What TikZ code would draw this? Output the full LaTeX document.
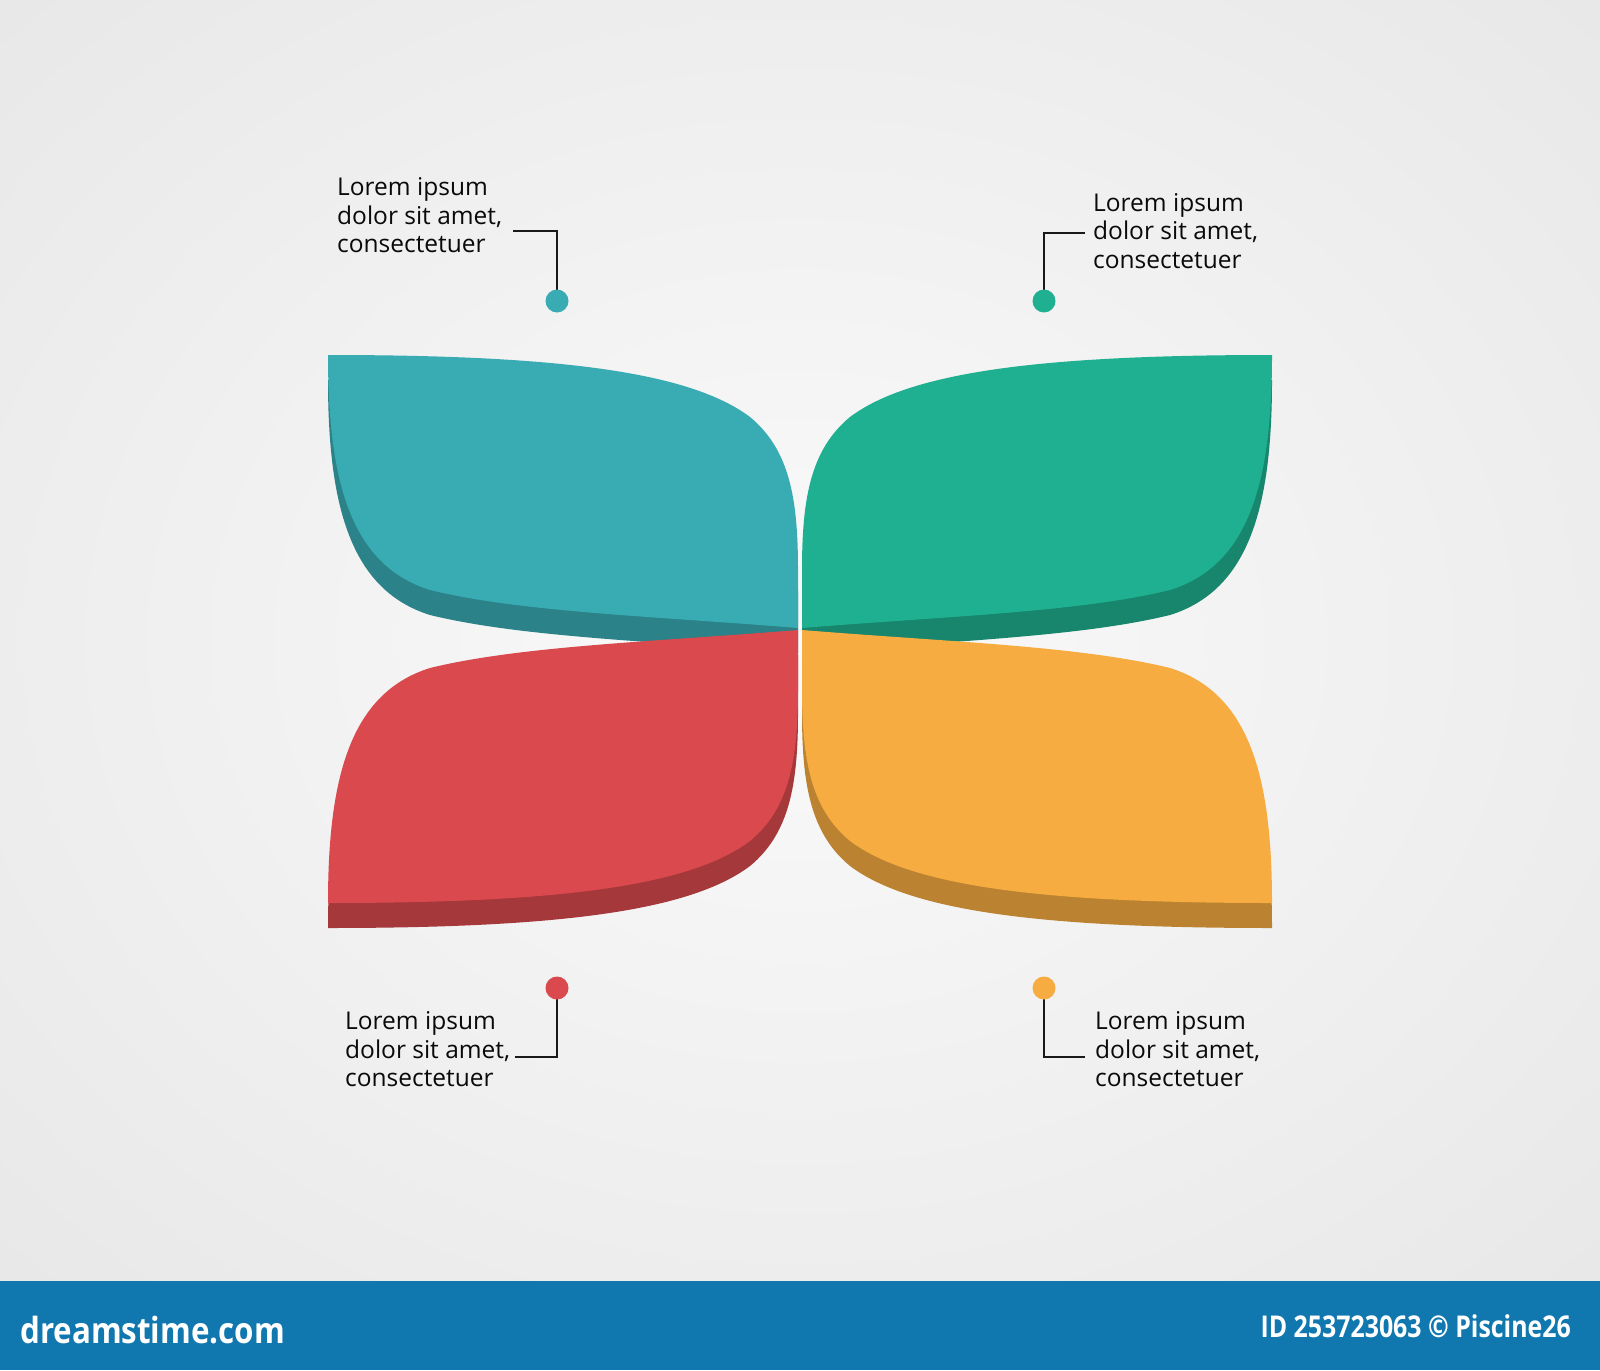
\documentclass[tikz,border=0pt]{standalone}
\usepackage{fontspec}
\setmainfont{Open Sans}
\newfontfamily\bannerfont[FakeStretch=0.83]{Open Sans}
\newfontfamily\brandfont[FakeStretch=0.87]{Open Sans}

\definecolor{petalTL}{HTML}{38ABB3}
\definecolor{petalTR}{HTML}{1EB090}
\definecolor{petalBL}{HTML}{D9494D}
\definecolor{petalBR}{HTML}{F6AC40}
\definecolor{banner}{HTML}{1077AF}
\pgfdeclareradialshading{bgglow}{\pgfpoint{0bp}{0bp}}{color(0bp)=(black!2); color(50bp)=(black!12)}
\newcommand{\petalpath}{(-470,-273) .. controls (-238,-273) and (-108,-256) .. (-48,-211)
  .. controls (-8,-178) and (0,-128) .. (0,-58) -- (0,0)
  .. controls (-148,-12) and (-278,-16) .. (-368,-38)
  .. controls (-448,-63) and (-470,-148) .. (-470,-273) -- cycle}

\begin{document}
\begin{tikzpicture}[x=1pt,y=-1pt,
    lbl/.style={font=\fontsize{24.5}{28.5}\selectfont,align=left,inner sep=0pt,anchor=north west,text=black!96},
    pin/.style={circle,inner sep=0pt,minimum size=23pt},
    lead/.style={draw=black!90,line width=2.2pt}]
  \shade[shading=bgglow] (0,0) rectangle (1600,1281);
  \fill[banner] (0,1281) rectangle (1600,1370);
  % petals, each with its darker rim below
  \foreach \tx/\ty/\sx/\sy/\c in {798/628/1/1/petalTL, 802/628/-1/1/petalTR,
      798/630/1/-1/petalBL, 802/630/-1/-1/petalBR}{
    \fill[\c!76!black,shift={(\tx,\ty+25)},xscale=\sx,yscale=\sy] \petalpath;
    \fill[\c,shift={(\tx,\ty)},xscale=\sx,yscale=\sy] \petalpath;
  }
  \node[lbl] (lblTL) at (337,177.5) {Lorem ipsum\\dolor sit amet,\\consectetuer};
  \node[lbl] (lblTR) at (1093,193) {Lorem ipsum\\dolor sit amet,\\consectetuer};
  \node[lbl] (lblBL) at (345,1011.5) {Lorem ipsum\\dolor sit amet,\\consectetuer};
  \node[lbl] (lblBR) at (1095,1011.5) {Lorem ipsum\\dolor sit amet,\\consectetuer};
  \coordinate (endTL) at (513,231);
  \coordinate (endTR) at (1085,233);
  \coordinate (endBL) at (515,1057);
  \coordinate (endBR) at (1085,1057);
  \draw[lead] (557,301) |- (endTL);
  \draw[lead] (1044,301) |- (endTR);
  \draw[lead] (557,988) |- (endBL);
  \draw[lead] (1044,988) |- (endBR);
  \node[pin,fill=petalTL] (pinTL) at (557,301) {};
  \node[pin,fill=petalTR] (pinTR) at (1044,301) {};
  \node[pin,fill=petalBL] (pinBL) at (557,988) {};
  \node[pin,fill=petalBR] (pinBR) at (1044,988) {};
  \node[font=\brandfont\bfseries\fontsize{36}{36}\selectfont,text=white,anchor=base west,inner sep=0pt] (brand) at (20,1343) {dreamstime.com};
  \node[font=\bannerfont\bfseries\fontsize{30}{30}\selectfont,text=white,anchor=base east,inner sep=0pt] (credit) at (1571,1337) {ID 253723063 © Piscine26};
\end{tikzpicture}
\end{document}
